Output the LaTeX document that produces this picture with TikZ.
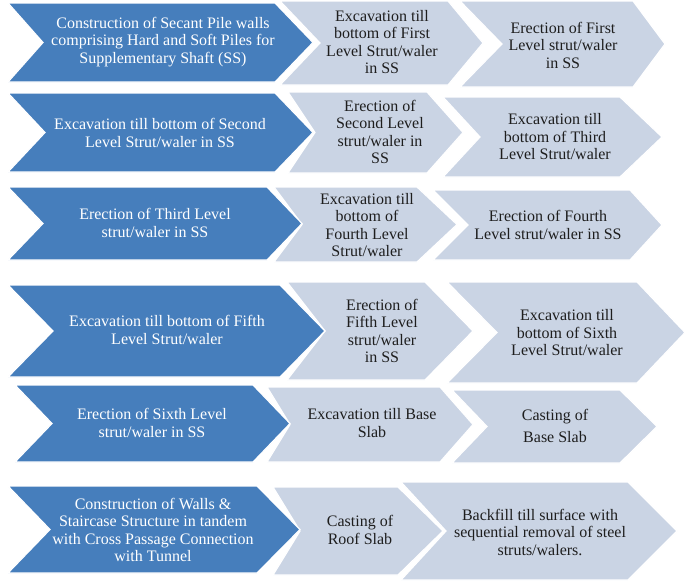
\documentclass[tikz,border=0pt]{standalone}
\usepackage{fontspec}
\setmainfont{Liberation Serif}
\definecolor{cblue}{RGB}{70,126,188}
\definecolor{clight}{RGB}{202,212,228}
\definecolor{ctext}{RGB}{30,30,30}
\newcommand\chev[7]{%
  \fill[#7] (#1,#5) -- (#3,#5) -- (#4,{(#5+#6)/2}) -- (#3,#6) -- (#1,#6) -- (#2,{(#5+#6)/2}) -- cycle;}
\tikzset{
  bshape/.style={fill=cblue, draw=white, line width=1.2pt},
  gshape/.style={fill=clight, draw=white, line width=1.2pt},
  btext/.style={text=white, align=center, inner sep=0pt, font=\fontsize{16}{17.5}\selectfont},
  gtext/.style={text=ctext, align=center, inner sep=0pt, font=\fontsize{16}{17.5}\selectfont},
}
\begin{document}
\begin{tikzpicture}[x=1pt,y=-1pt]
\useasboundingbox (0,0) rectangle (685,581);
% row 1
\chev{460}{502}{633}{665}{1}{87}{gshape}
\chev{280}{320}{448}{483}{1}{85}{gshape}
\chev{8}{43}{275}{313}{3}{82}{bshape}
\node[btext] (b1) at (163,42) {Construction of Secant Pile walls\\comprising Hard and Soft Piles for\\Supplementary Shaft (SS)};
\node[gtext] (g1a) at (382,42) {Excavation till\\bottom of First\\Level Strut/waler\\in SS};
\node[gtext] (g1b) at (563,45) {Erection of First\\Level strut/waler\\in SS};
% row 2
\chev{443}{480}{620}{662}{97}{177}{gshape}
\chev{288}{315}{427}{463}{92}{173}{gshape}
\chev{8}{45}{275}{313}{93}{172}{bshape}
\node[btext] (b2) at (160,133) {Excavation till bottom of Second\\Level Strut/waler in SS};
\node[gtext] (g2a) at (380,132) {Erection of\\Second Level\\strut/waler in\\SS};
\node[gtext] (g2b) at (555,137) {Excavation till\\bottom of Third\\Level Strut/waler};
% row 3
\chev{433}{468}{630}{662}{190}{260}{gshape}
\chev{274}{302}{417}{457}{187}{262}{gshape}
\chev{8}{43}{267}{302}{187}{260}{bshape}
\node[btext] (b3) at (155,223) {Erection of Third Level\\strut/waler in SS};
\node[gtext] (g3a) at (367,225) {Excavation till\\bottom of\\Fourth Level\\Strut/waler};
\node[gtext] (g3b) at (548,225) {Erection of Fourth\\Level strut/waler in SS};
% row 4
\chev{447}{497}{637}{685}{282}{383}{gshape}
\chev{287}{325}{425}{473}{282}{380}{gshape}
\chev{8}{53}{280}{325}{285}{377}{bshape}
\node[btext] (b4) at (167,330) {Excavation till bottom of Fifth\\Level Strut/waler};
\node[gtext] (g4a) at (382,331) {Erection of\\Fifth Level\\strut/waler\\in SS};
\node[gtext] (g4b) at (567,333) {Excavation till\\bottom of Sixth\\Level Strut/waler};
% row 5
\chev{452}{487}{620}{657}{390}{463}{gshape}
\chev{267}{290}{440}{473}{387}{462}{gshape}
\chev{15}{52}{253}{290}{385}{462}{bshape}
\node[btext] (b5) at (152,423) {Erection of Sixth Level\\strut/waler in SS};
\node[gtext] (g5a) at (372,423) {Excavation till Base\\Slab};
\node[gtext, font=\fontsize{16}{22}\selectfont] (g5b) at (555,426) {Casting of\\Base Slab};
% row 6
\chev{401}{446}{628}{677}{482}{580}{gshape}
\chev{273}{300}{398}{443}{487}{575}{gshape}
\chev{8}{50}{257}{300}{486}{573}{bshape}
\node[btext] (b6) at (153,530) {Construction of Walls \&\\Staircase Structure in tandem\\with Cross Passage Connection\\with Tunnel};
\node[gtext] (g6a) at (360,530) {Casting of\\Roof Slab};
\node[gtext] (g6b) at (540,532) {Backfill till surface with\\sequential removal of steel\\struts/walers.};
\end{tikzpicture}
\end{document}
